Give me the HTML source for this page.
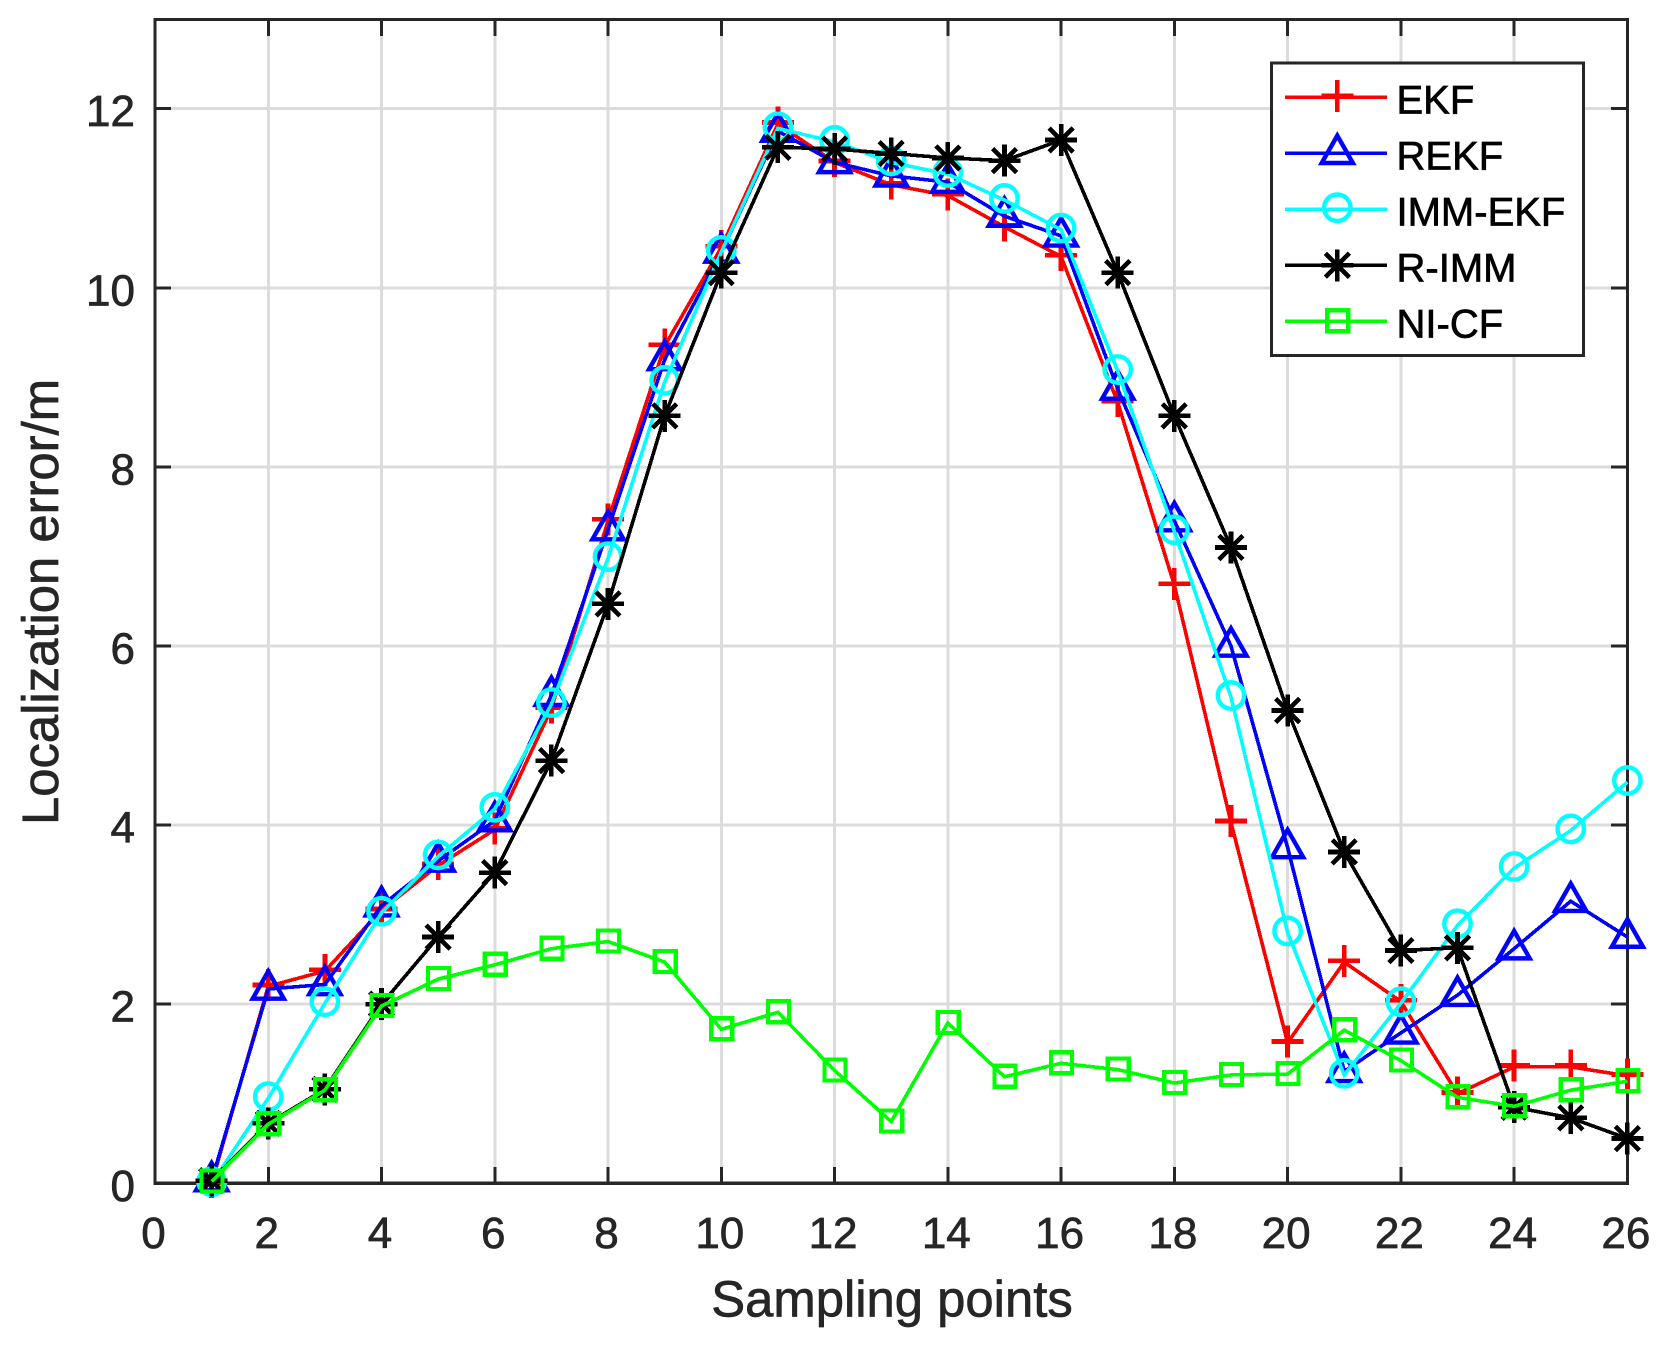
<!DOCTYPE html>
<html lang="en">
<head>
<meta charset="utf-8">
<title>Localization error chart</title>
<style>
html,body{margin:0;padding:0;background:#fff;}
svg{display:block;}
text{font-family:"Liberation Sans",Arial,sans-serif;stroke-width:0.7px;}
</style>
</head>
<body>
<svg id="chart" xmlns="http://www.w3.org/2000/svg" width="1673" height="1348" viewBox="0 0 1673 1348">
  <rect x="0" y="0" width="1673" height="1348" fill="#ffffff"/>
  <g id="grid"></g>
  <g id="ticks"></g>
  <rect x="155" y="19.5" width="1472.5" height="1163.8" fill="none" stroke="#262626" stroke-width="3.2" shape-rendering="crispEdges"/>
  <g id="tick-labels"></g>
  <text x="892" y="1316.7" font-size="50.8" fill="#262626" stroke="#262626" text-anchor="middle">Sampling points</text>
  <text transform="translate(58 602) rotate(-90)" font-size="50.8" fill="#262626" stroke="#262626" text-anchor="middle">Localization error/m</text>
  <g id="series"></g>
  <g id="legend">
    <rect x="1271.5" y="63" width="312" height="292.5" fill="#ffffff" stroke="#262626" stroke-width="3" shape-rendering="crispEdges"/>
  </g>
</svg>
<script>
var sampleIndex = [1,2,3,4,5,6,7,8,9,10,11,12,13,14,15,16,17,18,19,20,21,22,23,24,25,26];
var xTickLabels = [0,2,4,6,8,10,12,14,16,18,20,22,24,26];
var yTickLabels = [0,2,4,6,8,10,12];
var seriesNames = ['EKF','REKF','IMM-EKF','R-IMM','NI-CF'];
var ekfValues = [0,2.2,2.37,3.05,3.55,3.95,5.3,7.4,9.35,10.45,11.83,11.4,11.15,11.03,10.68,10.35,8.72,6.68,4.03,1.57,2.47,2.03,1.0,1.3,1.3,1.2];
var rekfValues = [0.03,2.17,2.22,3.1,3.6,4.05,5.45,7.3,9.2,10.4,11.75,11.4,11.25,11.18,10.8,10.58,8.87,7.4,6.0,3.75,1.25,1.68,2.1,2.62,3.15,2.75];
var immEkfValues = [0,0.95,2.01,3.02,3.65,4.18,5.35,6.98,8.95,10.4,11.78,11.63,11.4,11.27,10.98,10.65,9.07,7.28,5.43,2.8,1.21,2.01,2.88,3.52,3.94,4.48];
var rImmValues = [0.03,0.67,1.05,2.0,2.75,3.47,4.72,6.47,8.57,10.17,11.57,11.55,11.5,11.45,11.42,11.65,10.17,8.57,7.1,5.28,3.7,2.6,2.63,0.85,0.73,0.5];
var niCfValues = [0.02,0.66,1.04,1.98,2.28,2.44,2.62,2.7,2.47,1.72,1.91,1.26,0.69,1.79,1.19,1.34,1.27,1.12,1.21,1.22,1.71,1.37,0.96,0.86,1.04,1.14];

var NS = 'http://www.w3.org/2000/svg';
function xScale(v){ return 155 + v * 56.63; }
function yScale(v){ return 1183.3 - v * 89.55; }
function make(tag, attrs, parent){
  var el = document.createElementNS(NS, tag);
  for (var k in attrs) el.setAttribute(k, attrs[k]);
  parent.appendChild(el);
  return el;
}
var gridG = document.getElementById('grid');
var ticksG = document.getElementById('ticks');
var labelsG = document.getElementById('tick-labels');
var seriesG = document.getElementById('series');
var legendG = document.getElementById('legend');

xTickLabels.forEach(function(t){
  var px = xScale(t);
  if (t > 0 && t < 26) {
    var g = make('line', {x1:px, x2:px, y1:19.5, y2:1183.3, stroke:'#dcdcdc', 'stroke-width':3, 'shape-rendering':'crispEdges'}, gridG);
    
    
    var a = make('line', {x1:px, x2:px, y1:19.5, y2:35.8, stroke:'#262626', 'stroke-width':3, 'shape-rendering':'crispEdges'}, ticksG);
    
    
    var b = make('line', {x1:px, x2:px, y1:1167, y2:1183.3, stroke:'#262626', 'stroke-width':3, 'shape-rendering':'crispEdges'}, ticksG);
    
    
  }
  var lab = make('text', {x:px - 1.5, y:1248, 'font-size':44, fill:'#262626', stroke:'#262626', 'text-anchor':'middle'}, labelsG);
  lab.textContent = t;
  
  
});
yTickLabels.forEach(function(t){
  var py = yScale(t);
  if (t > 0) {
    var g = make('line', {x1:155, x2:1627.5, y1:py, y2:py, stroke:'#dcdcdc', 'stroke-width':3, 'shape-rendering':'crispEdges'}, gridG);
    
    
    var a = make('line', {x1:155, x2:171, y1:py, y2:py, stroke:'#262626', 'stroke-width':3, 'shape-rendering':'crispEdges'}, ticksG);
    
    
    var b = make('line', {x1:1611, x2:1627.5, y1:py, y2:py, stroke:'#262626', 'stroke-width':3, 'shape-rendering':'crispEdges'}, ticksG);
    
    
  }
  var lab = make('text', {x:135, y:py + 17.5, 'font-size':44, fill:'#262626', stroke:'#262626', 'text-anchor':'end'}, labelsG);
  lab.textContent = t;
  
  
});

function drawMarker(kind, color, cx, cy, parent){
  var g = make('g', {fill:'none', stroke:color, 'stroke-width':4, 'shape-rendering':'crispEdges'}, parent);
  
  
  var d = '';
  if (kind === 'plus') {
    var yc = cy - 1.3;
    d = 'M' + (cx-16) + ' ' + yc + 'H' + (cx+16) + 'M' + cx + ' ' + (yc-16) + 'V' + (yc+16);
    make('path', {d:d, 'stroke-width':4.8}, g);
  } else if (kind === 'triangle') {
    d = 'M' + cx + ' ' + (cy-17.7) + 'L' + (cx+15.6) + ' ' + (cy+9.7) + 'L' + (cx-15.6) + ' ' + (cy+9.7) + 'Z';
    make('path', {d:d, 'stroke-width':4.4, 'shape-rendering':'auto'}, g);
  } else if (kind === 'circle') {
    make('circle', {cx:cx, cy:cy - 1.6, r:13.2, 'stroke-width':4.4, 'shape-rendering':'auto'}, g);
  } else if (kind === 'star') {
    d = 'M' + (cx-16) + ' ' + cy + 'H' + (cx+16) + 'M' + cx + ' ' + (cy-16) + 'V' + (cy+16) +
        'M' + (cx-12) + ' ' + (cy-12) + 'L' + (cx+12) + ' ' + (cy+12) +
        'M' + (cx-12) + ' ' + (cy+12) + 'L' + (cx+12) + ' ' + (cy-12);
    make('path', {d:d, 'stroke-width':4.6}, g);
  } else if (kind === 'square') {
    make('rect', {x:cx - 10, y:cy - 11, width:21, height:21, 'stroke-width':4.2}, g);
  }
}

var seriesStyles = [
  {color:'#ff0000', marker:'plus', values:ekfValues, name:'series-ekf'},
  {color:'#0000ff', marker:'triangle', values:rekfValues, name:'series-rekf'},
  {color:'#00ffff', marker:'circle', values:immEkfValues, name:'series-imm-ekf'},
  {color:'#000000', marker:'star', values:rImmValues, name:'series-r-imm'},
  {color:'#00ff00', marker:'square', values:niCfValues, name:'series-ni-cf'}
];

seriesStyles.forEach(function(s, i){
  var g = make('g', {}, seriesG);
  
  
  var pts = s.values.map(function(v, j){ return xScale(sampleIndex[j]) + ',' + yScale(v); }).join(' ');
  var line = make('polyline', {points:pts, fill:'none', stroke:s.color, 'stroke-width':3.6, 'stroke-linejoin':'miter', 'shape-rendering':'crispEdges'}, g);
  
  
  s.values.forEach(function(v, j){
    drawMarker(s.marker, s.color, xScale(sampleIndex[j]), yScale(v), g);
  });

  var ly = 97.3 + i * 56;
  var entry = make('g', {}, legendG);
  
  
  var sample = make('line', {x1:1285, x2:1387, y1:ly, y2:ly, stroke:s.color, 'stroke-width':3.2, 'shape-rendering':'crispEdges'}, entry);
  
  
  drawMarker(s.marker, s.color, 1337.3, ly, entry);
  var t = make('text', {x:1396.5, y:ly + 16, 'font-size':40, fill:'#000000', stroke:'#000000'}, entry);
  t.textContent = seriesNames[i];
  
  
});
</script>
</body>
</html>
